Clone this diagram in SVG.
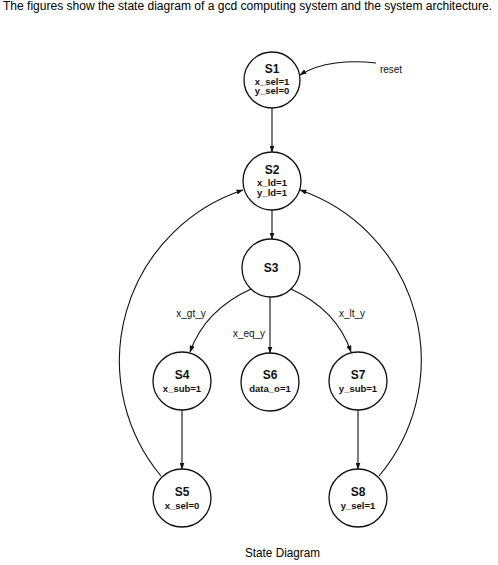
<svg xmlns="http://www.w3.org/2000/svg" width="498" height="565" viewBox="0 0 498 565">
<defs>
<marker id="arr" viewBox="0 0 7 5" refX="6.5" refY="2.5" markerWidth="7" markerHeight="5" markerUnits="userSpaceOnUse" orient="auto">
<path d="M0,0 L7,2.5 L0,5 Z" fill="#111"/>
</marker>
<style>
.st{fill:#fff;stroke:#111;stroke-width:1.3}
.c{fill:none;stroke:#111;stroke-width:1.1;marker-end:url(#arr)}
.n{font-family:"Liberation Sans",Arial,sans-serif;font-weight:bold;font-size:12px;fill:#111;text-anchor:middle}
.s{font-family:"Liberation Sans",Arial,sans-serif;font-weight:bold;font-size:9.5px;fill:#111;text-anchor:middle}
.l{font-family:"Liberation Sans",Arial,sans-serif;font-size:10px;fill:#111;text-anchor:middle}
.t{font-family:"Liberation Sans",Arial,sans-serif;font-size:12px;fill:#000}
</style>
</defs>
<rect width="498" height="565" fill="#fff"/>
<text class="t" x="3" y="10" textLength="489" lengthAdjust="spacingAndGlyphs">The figures show the state diagram of a gcd computing system and the system architecture.</text>
<g id="connectors">
<path class="c" d="M376,63 C350,60 320,62 300,75"/>
<path class="c" d="M272,108 L272,152"/>
<path class="c" d="M272,210 L272,239"/>
<path class="c" d="M251,289 Q205,310 190,352"/>
<path class="c" d="M270,297 L270,353"/>
<path class="c" d="M291,289 Q337,310 351,352"/>
<path class="c" d="M182,410 L182,469"/>
<path class="c" d="M358,410 L358,469"/>
<path class="c" d="M161,476 A180,180 0 0 1 243,190"/>
<path class="c" d="M379,476 A180,180 0 0 0 300,190"/>
<text class="l" x="191" y="317">x_gt_y</text>
<text class="l" x="249" y="337">x_eq_y</text>
<text class="l" x="352" y="317">x_lt_y</text>
</g>
<g id="reset"><text class="l" x="391" y="73">reset</text></g>
<g id="S1"><circle class="st" cx="272" cy="80" r="28"/><text class="n" x="272" y="73">S1</text><text class="s" x="272" y="84.5">x_sel=1</text><text class="s" x="272" y="94">y_sel=0</text></g>
<g id="S2"><circle class="st" cx="272" cy="181" r="29"/><text class="n" x="272" y="174">S2</text><text class="s" x="272" y="185.5">x_ld=1</text><text class="s" x="272" y="196">y_ld=1</text></g>
<g id="S3"><circle class="st" cx="271" cy="268" r="29"/><text class="n" x="271" y="272">S3</text></g>
<g id="S4"><circle class="st" cx="182" cy="381" r="29"/><text class="n" x="182" y="379">S4</text><text class="s" x="182" y="392">x_sub=1</text></g>
<g id="S6"><circle class="st" cx="270" cy="382" r="29"/><text class="n" x="270" y="379">S6</text><text class="s" x="270" y="392">data_o=1</text></g>
<g id="S7"><circle class="st" cx="358" cy="381" r="29"/><text class="n" x="358" y="379">S7</text><text class="s" x="358" y="392">y_sub=1</text></g>
<g id="S5"><circle class="st" cx="182" cy="498" r="29"/><text class="n" x="182" y="496">S5</text><text class="s" x="182" y="509">x_sel=0</text></g>
<g id="S8"><circle class="st" cx="358" cy="498" r="29"/><text class="n" x="358" y="496">S8</text><text class="s" x="358" y="509">y_sel=1</text></g>
<text class="t" x="245" y="557" font-size="11.5" textLength="75" lengthAdjust="spacingAndGlyphs">State Diagram</text>
</svg>
